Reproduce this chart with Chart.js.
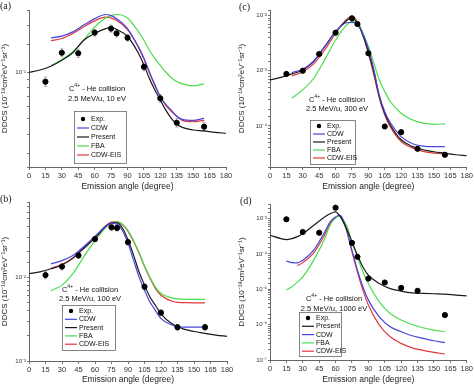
<!DOCTYPE html>
<html>
<head>
<meta charset="utf-8">
<script src="https://cdn.jsdelivr.net/npm/chart.js@4.4.0/dist/chart.umd.min.js"></script>
<style>
  body { margin: 0; background: #fff; width: 474px; height: 385px; position: relative; overflow: hidden; }
  canvas { position: absolute; }
  .tag { position: absolute; font-family: "Liberation Serif", serif; font-size: 10px; color: #222; }
</style>
</head>
<body>
<canvas id="chartA" width="237" height="192" style="left:0;top:0"></canvas>
<canvas id="chartC" width="237" height="192" style="left:237px;top:0"></canvas>
<canvas id="chartB" width="237" height="193" style="left:0;top:192px"></canvas>
<canvas id="chartD" width="237" height="193" style="left:237px;top:192px"></canvas>
<div class="tag" style="left:0;top:0">(a)</div>
<div class="tag" style="left:239px;top:1px">(c)</div>
<div class="tag" style="left:0;top:193px">(b)</div>
<div class="tag" style="left:240px;top:195px">(d)</div>
<script>
// experimental angles, shared by all panels
var expAngles = [15, 30, 45, 60, 75, 80, 90, 105, 120, 135, 160];
var xTicks = [0, 15, 30, 45, 60, 75, 90, 105, 120, 135, 150, 165, 180];

// (a) 10 eV
var angA = [0, 10, 20, 30, 40, 50, 60, 70, 75, 80, 90, 100, 105, 110, 115, 120, 125, 130, 135, 140, 150, 160, 170, 180];
var presentA = [0.0995, 0.103, 0.109, 0.119, 0.133, 0.16, 0.177, 0.19, 0.193, 0.188, 0.169, 0.132, 0.111, 0.091, 0.0767, 0.066, 0.057, 0.0505, 0.0464, 0.0442, 0.0425, 0.0419, 0.041, 0.0405];
var cdwA = [null, null, 0.166, 0.17, 0.181, 0.2, 0.22, 0.234, 0.23, 0.22, 0.19, 0.145, 0.123, 0.1, 0.083, 0.0695, 0.062, 0.057, 0.052, 0.0497, 0.049, 0.0505, null, null];
var fbaA = [null, null, 0.11, 0.12, 0.135, 0.16, 0.195, 0.222, 0.23, 0.234, 0.222, 0.181, 0.16, 0.138, 0.122, 0.11, 0.1, 0.092, 0.087, 0.084, 0.0815, 0.084, null, null];
var eisA = [null, null, 0.159, 0.164, 0.177, 0.195, 0.213, 0.225, 0.222, 0.215, 0.187, 0.144, 0.121, 0.099, 0.082, 0.0695, 0.061, 0.056, 0.052, 0.049, 0.048, 0.049, null, null];
var expA = [0.0867, 0.133, 0.132, 0.179, 0.19, 0.177, 0.166, 0.108, 0.0678, 0.0473, 0.0446];
var errA = [0.006, 0.008, 0.008, 0.009, 0.01, 0.009, 0.008, 0.006, 0.004, 0.003, 0.003];

// (b) 100 eV
var angB = [0, 10, 20, 30, 40, 50, 60, 70, 75, 80, 85, 90, 95, 100, 105, 110, 115, 120, 130, 135, 140, 150, 160, 170, 180];
var presentB = [0.011, 0.0116, 0.0126, 0.014, 0.0169, 0.0222, 0.0293, 0.0405, 0.0445, 0.0445, 0.0387, 0.028, 0.0185, 0.0116, 0.00805, 0.0058, 0.0046, 0.00366, 0.00278, 0.0026, 0.00242, 0.00225, 0.00214, 0.00204, 0.00197];
var cdwB = [null, null, 0.0144, 0.0158, 0.0182, 0.0233, 0.0308, 0.0405, 0.044, 0.043, 0.036, 0.0255, 0.0161, 0.0101, 0.007, 0.00507, 0.004, 0.0032, 0.0027, 0.00255, 0.00253, 0.00253, 0.00253, null, null];
var fbaB = [null, null, 0.0069, 0.00805, 0.0111, 0.0177, 0.0273, 0.0394, 0.0445, 0.0458, 0.043, 0.036, 0.0275, 0.0198, 0.0137, 0.01, 0.0076, 0.0064, 0.00566, 0.0055, 0.00545, 0.00545, 0.00545, null, null];
var eisB = [null, null, 0.0128, 0.0143, 0.017, 0.0227, 0.03, 0.0414, 0.0454, 0.0458, 0.0425, 0.0353, 0.0268, 0.0194, 0.0134, 0.0097, 0.0073, 0.0061, 0.00517, 0.005, 0.00498, 0.00495, 0.00495, null, null];
var expB = [0.0106, 0.0134, 0.0182, 0.0285, 0.0394, 0.0387, 0.0262, 0.0077, 0.00377, 0.00253, 0.00253];
var errB = [0.001, 0.0012, 0.0015, 0.002, 0.003, 0.003, 0.002, 0.0006, 0.0003, 0.0002, 0.0002];

// (c) 300 eV
var angC = [0, 10, 20, 30, 40, 50, 60, 70, 75, 80, 85, 90, 95, 100, 105, 110, 120, 130, 140, 150, 160, 170, 180];
var presentC = [6.8e-4, 7.6e-4, 8.75e-4, 1.03e-3, 1.46e-3, 2.73e-3, 5.1e-3, 8.05e-3, 9.3e-3, 7.2e-3, 4.4e-3, 2.2e-3, 9.6e-4, 3.4e-4, 1.7e-4, 1.05e-4, 5.6e-5, 4.26e-5, 3.7e-5, 3.4e-5, 3.2e-5, 3.0e-5, 2.88e-5];
var cdwC = [null, null, 9.25e-4, 1.06e-3, 1.5e-3, 2.73e-3, 5.1e-3, 7.4e-3, 7.5e-3, 7.0e-3, 4.7e-3, 2.5e-3, 1.05e-3, 3.6e-4, 1.8e-4, 1.15e-4, 6.4e-5, 4.8e-5, 4.3e-5, 4.2e-5, 4.2e-5, null, null];
var fbaC = [null, null, 3.2e-4, 4.5e-4, 7.3e-4, 1.57e-3, 3.6e-3, 6.7e-3, 7.8e-3, 7.6e-3, 4.8e-3, 2.74e-3, 1.37e-3, 6.8e-4, 4.2e-4, 2.77e-4, 1.7e-4, 1.29e-4, 1.12e-4, 1.07e-4, 1.09e-4, null, null];
var eisC = [null, null, 8.05e-4, 9.6e-4, 1.33e-3, 2.38e-3, 4.77e-3, 8.5e-3, 9.8e-3, 7.7e-3, 4.4e-3, 2.07e-3, 8.4e-4, 3.2e-4, 1.58e-4, 9.7e-5, 5.2e-5, 4.0e-5, 3.45e-5, 3.2e-5, 3.1e-5, null, null];
var expC = [8.75e-4, 1.0e-3, 2.01e-3, 4.89e-3, 8.9e-3, 7.0e-3, 2.07e-3, 9.75e-5, 7.7e-5, 3.85e-5, 3.0e-5];

// (d) 1000 eV
var angD = [0, 10, 15, 20, 25, 30, 40, 50, 55, 60, 63, 65, 70, 75, 80, 85, 90, 100, 110, 120, 130, 140, 150, 160, 170, 180];
var presentD = [3.4e-4, 2.72e-4, 2.55e-4, 2.72e-4, 3.1e-4, 3.77e-4, 6.5e-4, 1.12e-3, 1.38e-3, 1.55e-3, 1.3e-3, 1.05e-3, 5.25e-4, 2.2e-4, 9.2e-5, 4.3e-5, 2.5e-5, 1.46e-5, 1.05e-5, 8.9e-6, 7.9e-6, 7.7e-6, 7.5e-6, 7.3e-6, 6.85e-6, 6.5e-6];
var cdwD = [null, null, 6.3e-5, 5.7e-5, 5.6e-5, 6.7e-5, 1.28e-4, 4.2e-4, 8.1e-4, 1.12e-3, 1.25e-3, 1.2e-3, 4.8e-4, 1.28e-4, 3.5e-5, 1.18e-5, 4.95e-6, 1.67e-6, 8.7e-7, 6.3e-7, 4.85e-7, 4.1e-7, 3.5e-7, 3.1e-7, null, null];
var fbaD = [null, null, 9.5e-6, 1.18e-5, 1.6e-5, 2.25e-5, 6.7e-5, 2.72e-4, 6.5e-4, 1.05e-3, 1.2e-3, 1.12e-3, 6.5e-4, 2.2e-4, 8.3e-5, 3.1e-5, 1.46e-5, 4.4e-6, 2.07e-6, 1.35e-6, 1.01e-6, 8.2e-7, 7.0e-7, 6.3e-7, null, null];
var eisD = [null, null, null, null, 4.7e-5, 5.7e-5, 1.07e-4, 3.5e-4, 7.3e-4, 1.07e-3, 1.2e-3, 1.12e-3, 4.7e-4, 1.15e-4, 3.1e-5, 9.5e-6, 3.6e-6, 9.75e-7, 4.55e-7, 2.95e-7, 2.2e-7, 1.87e-7, 1.64e-7, 1.48e-7, null, null];
var expD = [9.6e-4, 4.2e-4, 4.0e-4, 2.04e-3, 2.06e-4, 8.3e-5, 2.02e-5, 1.56e-5, 1.1e-5, 9.1e-6, 1.87e-6];

var BLUE = "#4646dc";
var GREEN = "#4cdc4c";
var RED = "#e0383c";
var BLACK = "#1a1a1a";
var FONT = "'Liberation Sans', Arial, sans-serif";

Chart.defaults.font.family = FONT;
Chart.defaults.color = "#333";

function pairs(xs, ys) {
  return xs.map(function (x, i) { return { x: x, y: ys[i] }; });
}

function line(label, xs, ys, color) {
  return {
    label: label,
    data: pairs(xs, ys),
    borderColor: color,
    backgroundColor: color,
    borderWidth: 1.2,
    pointRadius: 0,
    cubicInterpolationMode: "monotone",
    fill: false,
  };
}

function dots(ys, err) {
  return {
    label: "Exp.",
    data: pairs(expAngles, ys),
    showLine: false,
    pointRadius: 2.6,
    pointBackgroundColor: "#000",
    pointBorderColor: "#000",
    borderColor: "#000",
    err: err,
  };
}

var sup = { "-": "\u207B", "0": "\u2070", "1": "\u00B9", "2": "\u00B2", "3": "\u00B3", "4": "\u2074", "5": "\u2075", "6": "\u2076", "7": "\u2077", "8": "\u2078", "9": "\u2079" };
function powLabel(v) {
  var e = Math.log10(v);
  if (Math.abs(e - Math.round(e)) > 1e-6) return "";
  return "10" + String(Math.round(e)).split("").map(function (c) { return sup[c]; }).join("");
}

// error bars under the experimental dots
var errorBars = {
  id: "errorBars",
  beforeDatasetsDraw: function (chart) {
    var ctx = chart.ctx;
    var xs = chart.scales.x, ys = chart.scales.y;
    chart.data.datasets.forEach(function (ds) {
      if (!ds.err) return;
      ctx.save();
      ctx.strokeStyle = "#9a9a9a";
      ctx.lineWidth = 0.8;
      ds.data.forEach(function (p, i) {
        var px = xs.getPixelForValue(p.x);
        var t = ys.getPixelForValue(p.y + ds.err[i]);
        var b = ys.getPixelForValue(p.y - ds.err[i]);
        ctx.beginPath();
        ctx.moveTo(px, t); ctx.lineTo(px, b);
        ctx.moveTo(px - 1.5, t); ctx.lineTo(px + 1.5, t);
        ctx.moveTo(px - 1.5, b); ctx.lineTo(px + 1.5, b);
        ctx.stroke();
      });
      ctx.restore();
    });
  },
};

// collision label + boxed legend inside the plot
var panelText = {
  id: "panelText",
  afterDraw: function (chart, args, o) {
    var ctx = chart.ctx;
    ctx.save();
    ctx.fillStyle = "#111";
    ctx.textBaseline = "middle";
    var a = "C", s = "4+", b = " - He collision";
    ctx.font = "7.5px " + FONT; var wa = ctx.measureText(a).width, wb = ctx.measureText(b).width;
    ctx.font = "5px " + FONT; var ws = ctx.measureText(s).width;
    var x0 = o.cx - (wa + ws + wb) / 2;
    ctx.textAlign = "left";
    ctx.font = "7.5px " + FONT; ctx.fillText(a, x0, o.y1);
    ctx.font = "5px " + FONT; ctx.fillText(s, x0 + wa, o.y1 - 3);
    ctx.font = "7.5px " + FONT; ctx.fillText(b, x0 + wa + ws, o.y1);
    ctx.textAlign = "center";
    ctx.fillText(o.line2, o.cx, o.y2);

    var bx = o.box;
    ctx.strokeStyle = "#666";
    ctx.lineWidth = 0.8;
    ctx.fillStyle = "#fff";
    ctx.fillRect(bx.x, bx.y, bx.w, bx.h);
    ctx.strokeRect(bx.x + 0.5, bx.y + 0.5, bx.w, bx.h);
    ctx.font = "7px " + FONT;
    ctx.textAlign = "left";
    chart.data.datasets.forEach(function (ds, i) {
      var ry = bx.y + o.row0 + i * o.step;
      if (ds.showLine === false) {
        ctx.fillStyle = "#000";
        ctx.beginPath();
        ctx.arc(bx.x + 9, ry, 2.2, 0, Math.PI * 2);
        ctx.fill();
      } else {
        ctx.strokeStyle = ds.borderColor;
        ctx.lineWidth = 1.2;
        ctx.beginPath();
        ctx.moveTo(bx.x + 3, ry); ctx.lineTo(bx.x + 15, ry);
        ctx.stroke();
      }
      ctx.fillStyle = "#111";
      ctx.fillText(ds.label, bx.x + 17, ry);
    });
    ctx.restore();
  },
};

function makePanel(id, datasets, yMin, yMax, geo, text) {
  new Chart(document.getElementById(id), {
    type: "line",
    data: { datasets: datasets },
    plugins: [errorBars, panelText],
    options: {
      responsive: false,
      animation: false,
      layout: { padding: { top: geo.top, right: geo.right, left: 0, bottom: 0 } },
      plugins: {
        legend: { display: false },
        tooltip: { enabled: false },
        panelText: text,
      },
      scales: {
        x: {
          type: "linear",
          min: 0,
          max: 180,
          afterBuildTicks: function (s) { s.ticks = xTicks.map(function (v) { return { value: v }; }); },
          ticks: { font: { size: 7.5 }, padding: 1, maxRotation: 0, autoSkip: false, color: "#333" },
          grid: { drawOnChartArea: false, tickLength: 3, color: "#777" },
          border: { color: "#666" },
          title: { display: true, text: "Emission angle (degree)", font: { size: 8.5 }, padding: { top: 0, bottom: 0 }, color: "#222" },
          afterFit: function (s) { s.height = geo.bottom; },
        },
        y: {
          type: "logarithmic",
          min: yMin,
          max: yMax,
          ticks: { font: { size: 6 }, padding: 1, autoSkip: false, callback: function (v) { return powLabel(v); }, color: "#333" },
          grid: { drawOnChartArea: false, tickLength: 2, color: "#777" },
          border: { color: "#666" },
          title: { display: true, text: "DDCS (10\u207B\u00B9\u2078cm\u00B2eV\u207B\u00B9sr\u207B\u00B9)", font: { size: 8 }, padding: 0, color: "#222" },
          afterFit: function (s) { s.width = geo.left; },
        },
      },
    },
  });
}

makePanel("chartA", [
  dots(expA, errA),
  line("CDW", angA, cdwA, BLUE),
  line("Present", angA, presentA, BLACK),
  line("FBA", angA, fbaA, GREEN),
  line("CDW-EIS", angA, eisA, RED),
], 0.0246, 0.25, { top: 10, right: 11, left: 29, bottom: 25 },
  { cx: 97, y1: 89, y2: 99, line2: "2.5 MeV/u, 10 eV", box: { x: 74, y: 111, w: 52, h: 52 }, row0: 8, step: 9 });

makePanel("chartC", [
  dots(expC, null),
  line("CDW", angC, cdwC, BLUE),
  line("Present", angC, presentC, BLACK),
  line("FBA", angC, fbaC, GREEN),
  line("CDW-EIS", angC, eisC, RED),
], 1.8e-5, 0.0126, { top: 10, right: 7, left: 33, bottom: 25 },
  { cx: 100, y1: 100, y2: 109, line2: "2.5 MeV/u, 300 eV", box: { x: 73, y: 120, w: 45, h: 44 }, row0: 6, step: 8 });

makePanel("chartB", [
  dots(expB, errB),
  line("CDW", angB, cdwB, BLUE),
  line("Present", angB, presentB, BLACK),
  line("FBA", angB, fbaB, GREEN),
  line("CDW-EIS", angB, eisB, RED),
], 0.001, 0.079, { top: 10, right: 10, left: 29, bottom: 24 },
  { cx: 90, y1: 98, y2: 107, line2: "2.5 MeV/u, 100 eV", box: { x: 62, y: 113, w: 53, h: 45 }, row0: 6, step: 8.3 });

makePanel("chartD", [
  dots(expD, null),
  line("Present", angD, presentD, BLACK),
  line("CDW", angD, cdwD, BLUE),
  line("FBA", angD, fbaD, GREEN),
  line("CDW-EIS", angD, eisD, RED),
], 1e-7, 2.6e-3, { top: 12, right: 6, left: 33, bottom: 25 },
  { cx: 97, y1: 107, y2: 117, line2: "2.5 MeV/u, 1000 eV", box: { x: 62, y: 120, w: 42, h: 44 }, row0: 6, step: 8.3 });
</script>
</body>
</html>
